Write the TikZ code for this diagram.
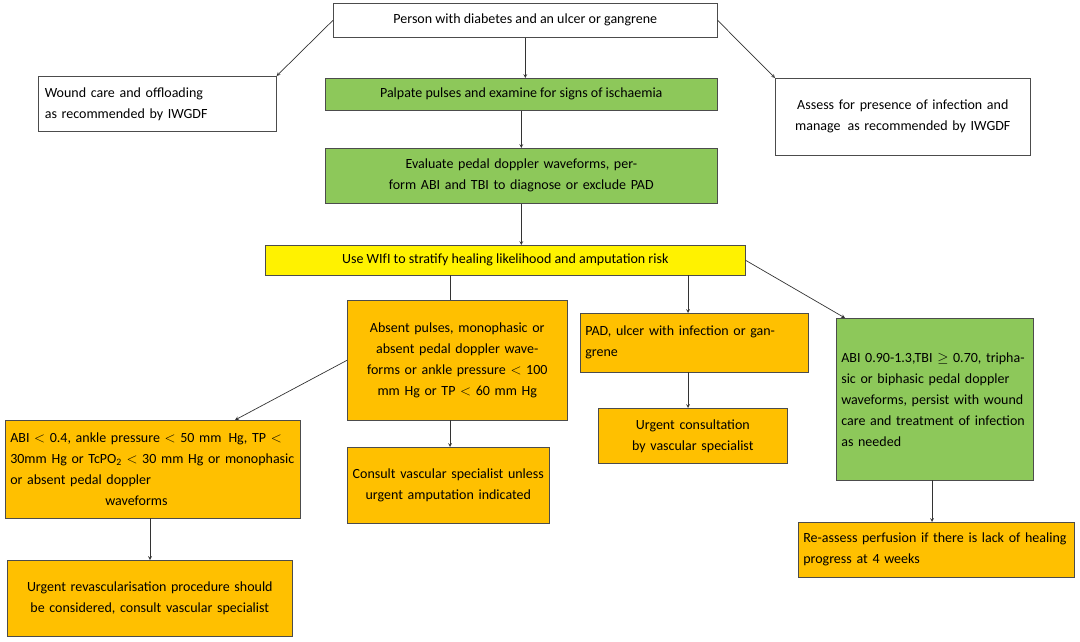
\documentclass[tikz,border=0pt]{standalone}
\usepackage{fontspec}
\setmainfont{Carlito}
\begin{document}
\begin{tikzpicture}[x=1pt,y=-1pt,
 b/.style={draw=black!70,line width=0.6pt,anchor=north west,inner sep=3pt,font=\fontsize{14}{21}\selectfont},
 wh/.style={b,fill=white},
 gr/.style={b,fill=green!55!lime!70!black!60!white,fill=gcol},
 ye/.style={b,fill=yellow},
 or/.style={b,fill=ocol},
 a/.style={->,>=stealth,line width=0.7pt,black!80}]
\definecolor{gcol}{HTML}{8DC85A}
\definecolor{ocol}{HTML}{FFC000}
\useasboundingbox (0,0) rectangle (1080,642);
\def\bx#1#2#3#4#5#6#7{\node[#2,minimum width=#5-#3,minimum height=#6-#4,text width=#5-#3-10,align=#7] (#1) at (#3,#4) {};}
\node[wh,minimum width=384,minimum height=34,align=center] (top) at (333,3) {Person with diabetes and an ulcer or gangrene};
\node[wh,minimum width=238,minimum height=55,text width=225,align=left] (wc) at (38,76) {Wound care and offloading\\as recommended by IWGDF};
\node[gr,minimum width=392,minimum height=32,align=center] (pal) at (325,78) {Palpate pulses and examine for signs of ischaemia};
\node[wh,minimum width=255,minimum height=77,text width=245,align=center] (as) at (775,78) {Assess for presence of infection and manage\, as recommended by IWGDF};
\node[gr,minimum width=392,minimum height=55,text width=380,align=center] (ev) at (325,148) {Evaluate pedal doppler waveforms, perform ABI and TBI to diagnose or exclude PAD};
\node[ye,minimum width=480,minimum height=30,align=center] (wi) at (265,245) {Use WIfI to stratify healing likelihood and amputation risk};
\node[or,minimum width=220,minimum height=120,text width=210,align=center] (abs) at (347,300) {Absent pulses, monophasic or absent pedal doppler waveforms or ankle pressure $<$ 100 mm Hg or TP $<$ 60 mm Hg};
\node[or,minimum width=228,minimum height=59,text width=218,align=left] (pad) at (580,313) {PAD, ulcer with infection or gangrene};
\node[gr,minimum width=197,minimum height=162,text width=187,align=left] (abg) at (836,318) {ABI 0.90-1.3,TBI $\geq$ 0.70, triphasic or biphasic pedal doppler waveforms, persist with wound care and treatment of infection as needed};
\node[or,minimum width=295,minimum height=98,text width=285,align=left] (abl) at (5,420) {ABI $<$ 0.4, ankle pressure $<$ 50 mm\, Hg, TP $<$ 30mm Hg or TcPO\textsubscript{2} $<$ 30 mm Hg or monophasic or absent pedal doppler\\\hspace*{95pt}waveforms};
\node[or,minimum width=202,minimum height=76,text width=192,align=center] (con) at (347,447) {Consult vascular specialist unless urgent amputation indicated};
\node[or,minimum width=189,minimum height=55,text width=179,align=center] (urg) at (598,408) {Urgent consultation by vascular specialist};
\node[or,minimum width=276,minimum height=55,text width=266,align=left] (re) at (798,522) {Re-assess perfusion if there is lack of healing progress at 4 weeks};
\node[or,minimum width=285,minimum height=76,text width=275,align=center] (rev) at (7,560) {Urgent revascularisation procedure should be considered, consult vascular specialist};
\draw[a] (top.south) -- (top.south|-pal.north);
\draw[a] (top.west) -- (wc.north east);
\draw[a] (top.east) -- (as.north west);
\draw[a] (pal.south) -- (ev.north);
\draw[a] (ev.south) -- (ev.south|-wi.north);
\draw[line width=0.7pt,black!80] (450,275) -- (450,300);
\draw[a] (688,275) -- (688,313);
\draw[a] (wi.east) -- (845,318);
\draw[a] (abs.west) -- (235,420);
\draw[a] (450,420) -- (450,447);
\draw[a] (688,372) -- (688,408);
\draw[a] (932,480) -- (932,522);
\draw[a] (150,518) -- (150,560);
\end{tikzpicture}
\end{document}
